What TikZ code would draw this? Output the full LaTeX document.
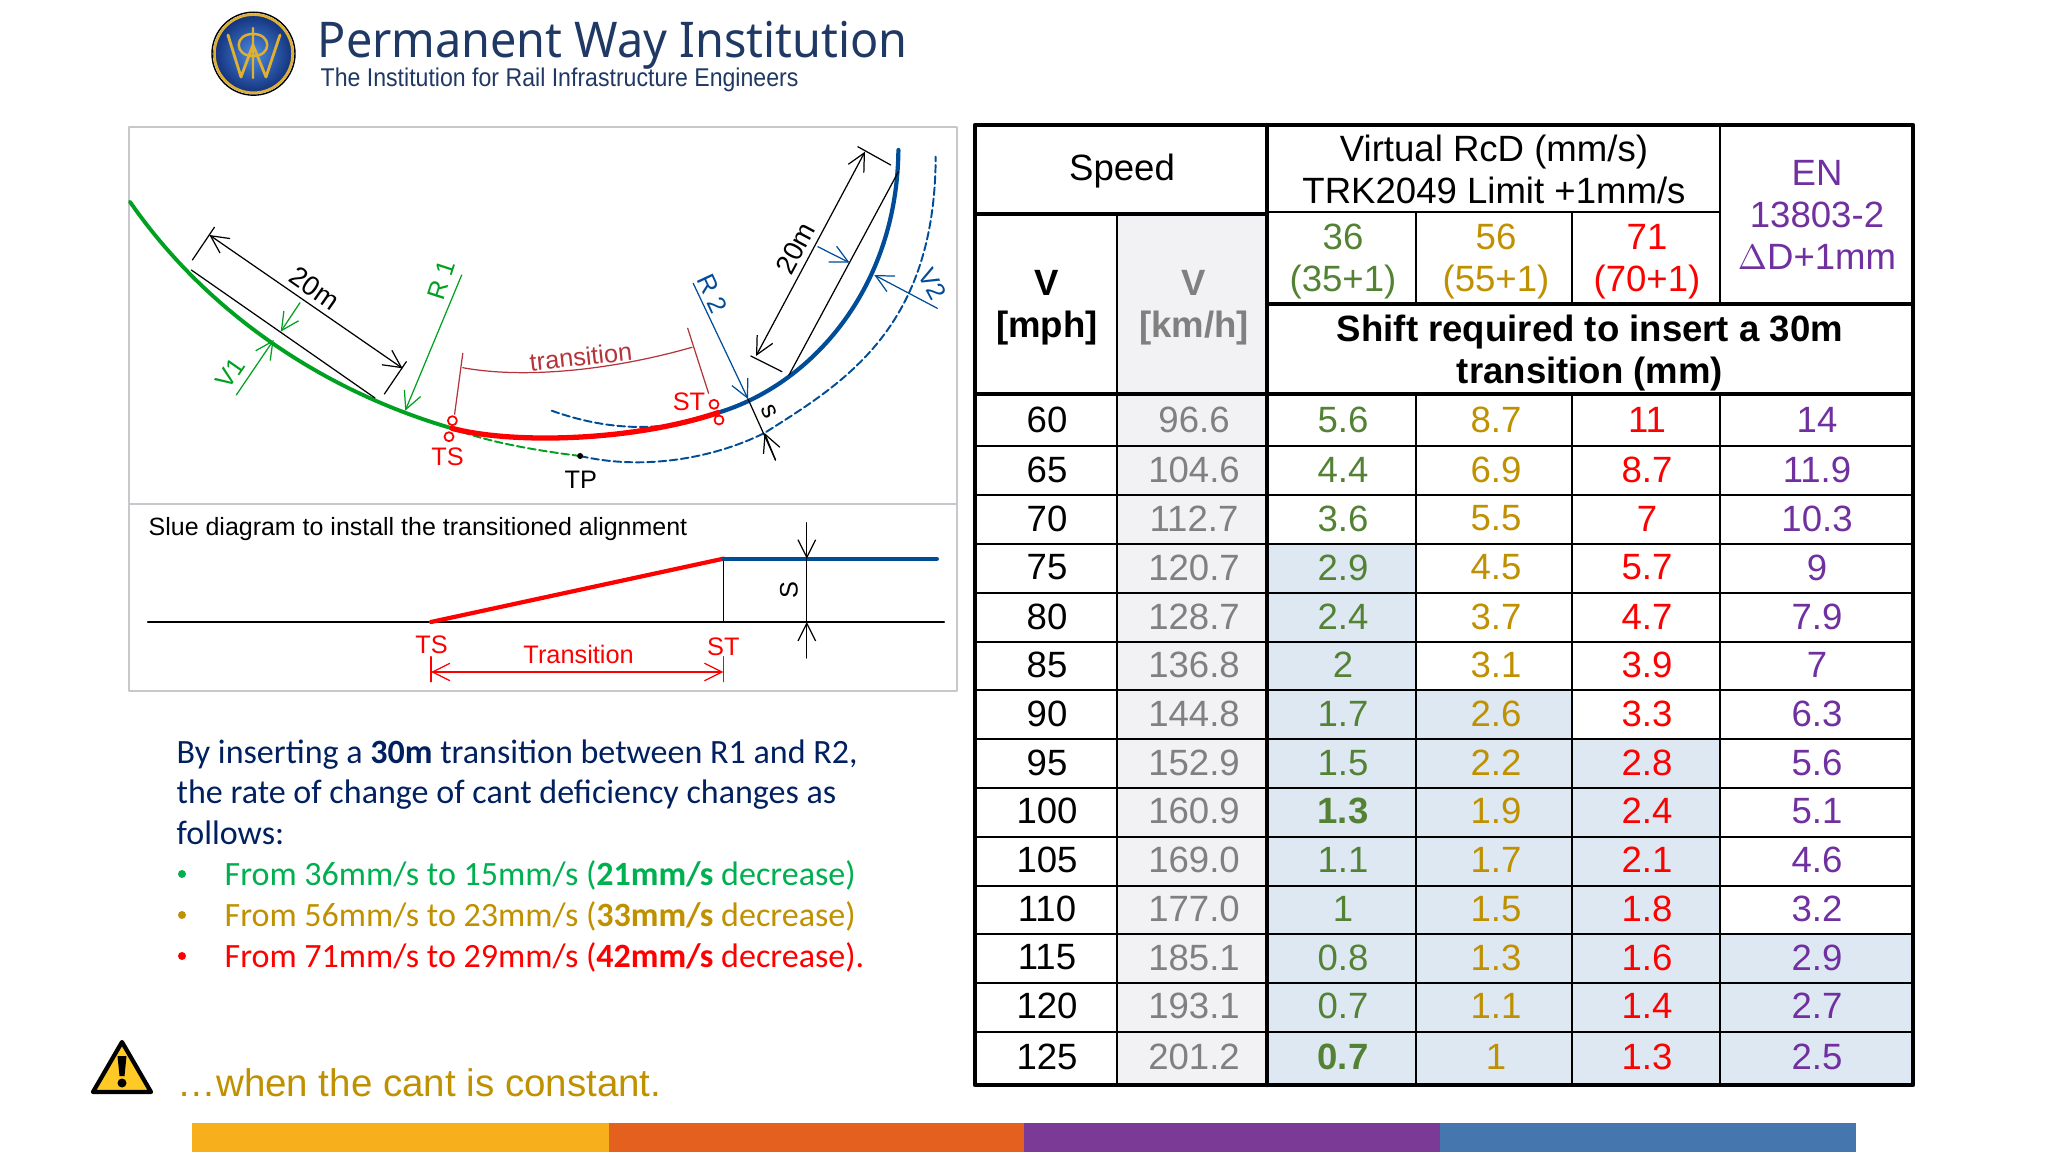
\documentclass[tikz,border=0pt]{standalone}
\usepackage{fontspec}
\setmainfont{Liberation Sans}
\newfontfamily\bodyfont{Carlito}
\newfontfamily\titlefont[FakeStretch=0.95]{Noto Sans}
\newfontfamily\narrowfont[FakeStretch=0.9]{Liberation Sans}
\usetikzlibrary{arrows.meta}
\definecolor{navy}{HTML}{002060}
\definecolor{logonavy}{HTML}{1F3864}
\definecolor{railgreen}{HTML}{00A020}
\definecolor{railblue}{HTML}{004C97}
\definecolor{railred}{HTML}{FF0000}
\definecolor{dimred}{HTML}{B5343C}
\definecolor{txtgreen}{HTML}{00B050}
\definecolor{gold}{HTML}{BF9000}
\definecolor{tabgreen}{HTML}{548235}
\definecolor{tabpurple}{HTML}{7030A0}
\definecolor{tabgrey}{HTML}{808080}
\definecolor{greyfill}{HTML}{F2F1F4}
\definecolor{bluefill}{HTML}{DEE8F3}
\definecolor{framegrey}{HTML}{C8C8CC}
\definecolor{logogold}{HTML}{E0B030}
\definecolor{logoin}{HTML}{4C8AE0}
\definecolor{logoout}{HTML}{12307A}
\definecolor{warnyellow}{HTML}{FFC926}
\definecolor{barA}{HTML}{F7B01C}
\definecolor{barB}{HTML}{E4601E}
\definecolor{barC}{HTML}{7B3A96}
\definecolor{barD}{HTML}{4577AE}
\tikzset{
	dim/.style={line width=0.35pt,{Straight Barb[length=5pt,width=5pt]}-{Straight Barb[length=5pt,width=5pt]}},
	lead/.style={line width=0.35pt,-{Straight Barb[length=5pt,width=5pt]}},
	plain/.style={line width=0.35pt},
	fine dash/.style={line width=0.55pt,dash pattern=on 2.2pt off 1pt},
	lab/.style={inner sep=0pt,font=\fontsize{7.2}{8}\selectfont},
	bodytxt/.style={inner sep=0pt,anchor=base west,font=\bodyfont\fontsize{9.68}{11}\selectfont},
	cell/.style={inner sep=0pt,align=center,font=\fontsize{10.4}{11.95}\selectfont},
	boldcell/.style={cell,font=\bfseries\fontsize{10.4}{11.95}\selectfont},
	rule/.style={line width=0.5pt},
	thickrule/.style={line width=1.2pt}
}
\begin{document}
\begin{tikzpicture}[x=0.01cm,y=-0.01cm,line join=round,line cap=round]
	\useasboundingbox (0,0) rectangle (2048,1152);
	%logo
	\shade[inner color=logoin,outer color=logoout] (253.5,53.7) circle(40);
	\draw[logogold,line width=0.7pt] (253.5,53.7) circle(39);
	\draw[black,line width=0.4pt] (253.5,53.7) circle(41.5);
	\draw[logogold,line width=0.8pt] (228,35)--(241,77)--(253,45)--(266,77)--(280,35);
	\draw[logogold,line width=0.7pt] (253,28)--(253,78) (253,34) .. controls (272,34) and (272,56) .. (253,56) (253,34) .. controls (234,34) and (234,56) .. (253,56);
	\node[inner sep=0pt,anchor=base west,text=logonavy,font=\titlefont\fontsize{14}{15}\selectfont] (title) at (317,58) {Permanent Way Institution};
	\node[inner sep=0pt,anchor=base west,text=logonavy,font=\narrowfont\fontsize{7.3}{8}\selectfont] (subtitle) at (320,87) {The Institution for Rail Infrastructure Engineers};
	%panel
	\draw[framegrey,line width=0.5pt] (129,127) rectangle (957,691) (129,504)--(957,504);
	\coordinate (ts) at (451.9,428.3);
	\coordinate (st) at (718,412.7);
	\coordinate (tp) at (580.2,456);
	\coordinate (chordA) at (191.3,270);
	\coordinate (chordB) at (375,398);
	\coordinate (chordC) at (789,375);
	\coordinate (chordD) at (898.4,171.7);
	\coordinate (topR) at (748,399);
	\coordinate (topV) at (874.3,275);
	\coordinate (botS) at (764.5,433);
	\draw[railblue,fine dash] (551.7,410.7) .. controls (600,428) and (640,429) .. (668.6,425);
	\draw[railgreen,fine dash] (ts) .. controls (490,443) and (540,451) .. (tp);
	\draw[railblue,fine dash] (tp) .. controls (640,470) and (710,460) .. (botS) .. controls (845,382) and (935,328) .. (935.7,156.7);
	\draw[railgreen,line width=1.1pt] (129.9,201.7) .. controls (205,310) and (320,390) .. (ts);
	\draw[railblue,line width=1.2pt] (st) .. controls (810,385) and (897,290) .. (898.4,150);
	\draw[railred,line width=1.5pt] (ts) .. controls (510,444) and (630,442) .. (st);
	%20m left
	\draw[plain] (chordA)--(chordB) (214.4,227.3)--(192.4,260) (406.3,361.7)--(384.4,394);
	\draw[dim] (209.4,235)--(402.5,368.3);
	\node[lab,rotate=-35,font=\fontsize{7.8}{8}\selectfont] (lenA) at (314.7,288.3) {20m};
	%20m right
	\draw[plain] (chordC)--(chordD) (857.8,146.7)--(890.7,165) (750.8,356)--(782,371.7);
	\draw[dim] (865,151.7)--(756,356);
	\node[lab,rotate=62,font=\fontsize{7.8}{8}\selectfont] (lenB) at (795.8,248.3) {20m};
	%versines and radii
	\draw[lead,railgreen] (300,302.7)--(280.7,331.7);
	\draw[lead,railgreen] (236.3,395)--(273.6,340);
	\draw[lead,railgreen] (461.7,275)--(405.2,410.7);
	\node[lab,rotate=55,text=railgreen] (vone) at (230.7,373.3) {V1};
	\node[lab,rotate=72,text=railgreen] (rone) at (441,280) {R 1};
	\draw[lead,railblue] (817.8,246.7)--(849.6,262.7);
	\draw[lead,railblue] (937.3,308.3)--(topV);
	\draw[lead,railblue] (693.2,283.3)--(topR);
	\node[lab,rotate=-62,text=railblue] (vtwo) at (933,284) {V2};
	\node[lab,rotate=-65,text=railblue] (rtwo) at (712.4,293.3) {R 2};
	%transition
	\draw[plain,dimred] (462.8,353.3)--(454.6,414.3) (687.7,328.3)--(708.6,393.3);
	\draw[plain,dimred] (462.8,367.7) .. controls (530,380) and (620,368) .. (692,347.3);
	\node[lab,rotate=6,text=dimred] (trans) at (580.8,356.7) {transition};
	\draw[railred,line width=0.5pt] (452.4,420.7) circle(4.5) (449,436.7) circle(4.5) (714,404.3) circle(4.5) (719,420) circle(4.5);
	\node[lab,text=railred] (tslab) at (447.5,456.7) {TS};
	\node[lab,text=railred] (stlab) at (689,401.7) {ST};
	\fill (tp) circle(3);
	\node[lab] (tplab) at (580.8,480) {TP};
	%s
	\draw[plain] (topR)--(775.5,460);
	\draw[lead] (775.5,460)--(botS);
	\node[lab,rotate=-66] (slab) at (769,411.7) {s};
	%slue diagram
	\coordinate (slueTS) at (431,622);
	\coordinate (slueST) at (723.4,558.7);
	\coordinate (slueS) at (723.4,622);
	\node[inner sep=0pt,anchor=base west,font=\fontsize{7.1}{8}\selectfont] (slue) at (148,535) {Slue diagram to install the transitioned alignment};
	\draw[line width=0.7pt] (148,622)--(944,622);
	\draw[plain] (slueST)--(slueS);
	\draw[railred,line width=1.2pt] (slueTS)--(slueST);
	\draw[railblue,line width=1.1pt] (slueST)--(937,558.7);
	\draw[lead] (806.8,522.7)--(806.8,558.7);
	\draw[lead] (806.8,658)--(806.8,622);
	\draw[plain] (806.8,558.7)--(806.8,622);
	\node[lab,rotate=90] (sluesl) at (789,590) {S};
	\node[lab,text=railred] (sluets) at (431.6,645) {TS};
	\node[lab,text=railred] (sluest) at (723.4,647) {ST};
	\node[lab,text=railred] (sluetr) at (578.6,654) {Transition};
	\draw[plain,railred] (431,656.7)--(431,681.7) (723.4,656.7)--(723.4,681.7);
	\draw[dim,railred] (431,672)--(723.4,672);
	%bullets
	\node[bodytxt,text=navy] (bodyA) at (176,763) {By inserting a \textbf{30m} transition between R1 and R2,};
	\node[bodytxt,text=navy] (bodyB) at (176,803) {the rate of change of cant deficiency changes as};
	\node[bodytxt,text=navy] (bodyC) at (176,844) {follows:};
	\foreach \y/\col/\txt in {885/txtgreen/{From 36mm/s to 15mm/s (\textbf{21mm/s} decrease)},
		926/gold/{From 56mm/s to 23mm/s (\textbf{33mm/s} decrease)},
		967/railred/{From 71mm/s to 29mm/s (\textbf{42mm/s} decrease).}}
	{
		\fill[\col] (182,\y-11) circle(4);
		\node[bodytxt,text=\col] (item\y) at (224,\y) {\txt};
	}
	%warning
	\filldraw[warnyellow,draw=black,line width=1.2pt] (122,1042) -- (151,1092) -- (93,1092) -- cycle;
	\fill[black] (117.5,1056) -- (126.5,1056) -- (124.5,1076) -- (119.5,1076) -- cycle;
	\fill[black] (122,1083) circle(4.5);
	\node[inner sep=0pt,anchor=base west,text=gold,font=\fontsize{10.95}{12}\selectfont] (cant) at (177,1096) {\ldots when the cant is constant.};
	%table
	\fill[greyfill] (1117,214) rectangle (1267,1085);
	\foreach \xa/\xb/\ya in {1267/1416/544,1416/1572/690,1572/1720/739,1720/1913/934}
	\fill[bluefill] (\xa,\ya) rectangle (\xb,1085);
	\foreach \y in {446,495,544,593,642,690,739,788,837,886,934,983,1032}
	\draw[rule] (975,\y)--(1913,\y);
	\foreach \x in {1416,1572}
	\draw[rule] (\x,212)--(\x,304) (\x,394)--(\x,1085);
	\draw[rule] (1720,125)--(1720,304) (1720,394)--(1720,1085);
	\draw[rule] (1117,214)--(1117,1085);
	\draw[rule] (1267,212)--(1720,212);
	\draw[thickrule] (975,125) rectangle (1913,1085);
	\draw[thickrule] (1267,125)--(1267,1085) (975,214)--(1267,214) (1267,304)--(1913,304) (975,394)--(1913,394);
	\node[cell] (speed) at (1122,171) {Speed};
	\node[cell] (rcd) at (1494,169) {Virtual RcD (mm/s)\\TRK2049 Limit +1mm/s};
	\node[cell,text=tabpurple] (en) at (1817,215) {EN\\13803-2\\$\Delta$D+1mm};
	\node[cell,text=tabgreen] (rcda) at (1343,262) {36\\(35+1)};
	\node[cell,text=gold] (rcdb) at (1496,262) {56\\(55+1)};
	\node[cell,text=railred] (rcdc) at (1647,262) {71\\(70+1)};
	\node[boldcell] (vmph) at (1047,308) {V\\{[mph]}};
	\node[boldcell,text=tabgrey] (vkmh) at (1194,308) {V\\{[km/h]}};
	\node[boldcell] (shift) at (1590,353) {Shift required to insert a 30m\\transition (mm)};
	\foreach \v/\k/\ca/\cb/\cc/\cd/\yc in {60/96.6/5.6/8.7/11/14/420,
		65/104.6/4.4/6.9/8.7/11.9/470,
		70/112.7/3.6/5.5/7/10.3/518.5,
		75/120.7/2.9/4.5/5.7/9/567.5,
		80/128.7/2.4/3.7/4.7/7.9/616.5,
		85/136.8/2/3.1/3.9/7/665,
		90/144.8/1.7/2.6/3.3/6.3/713.5,
		95/152.9/1.5/2.2/2.8/5.6/763,
		100/160.9/\textbf{1.3}/1.9/2.4/5.1/811,
		105/169.0/1.1/1.7/2.1/4.6/860,
		110/177.0/1/1.5/1.8/3.2/909,
		115/185.1/0.8/1.3/1.6/2.9/957.5,
		120/193.1/0.7/1.1/1.4/2.7/1006,
		125/201.2/\textbf{0.7}/1/1.3/2.5/1057}
	{
		\node[cell] (mph\v) at (1047,\yc) {\v};
		\node[cell,text=tabgrey] (kmh\v) at (1194,\yc) {\k};
		\node[cell,text=tabgreen] (ca\v) at (1343,\yc) {\ca};
		\node[cell,text=gold] (cb\v) at (1496,\yc) {\cb};
		\node[cell,text=railred] (cc\v) at (1647,\yc) {\cc};
		\node[cell,text=tabpurple] (cd\v) at (1817,\yc) {\cd};
	}
	%colour bar
	\foreach \xa/\xb/\col in {192/608.6/barA,608.6/1024/barB,1024/1440/barC,1440/1856/barD}
	\fill[\col] (\xa,1123) rectangle (\xb,1152);
\end{tikzpicture}
\end{document}
